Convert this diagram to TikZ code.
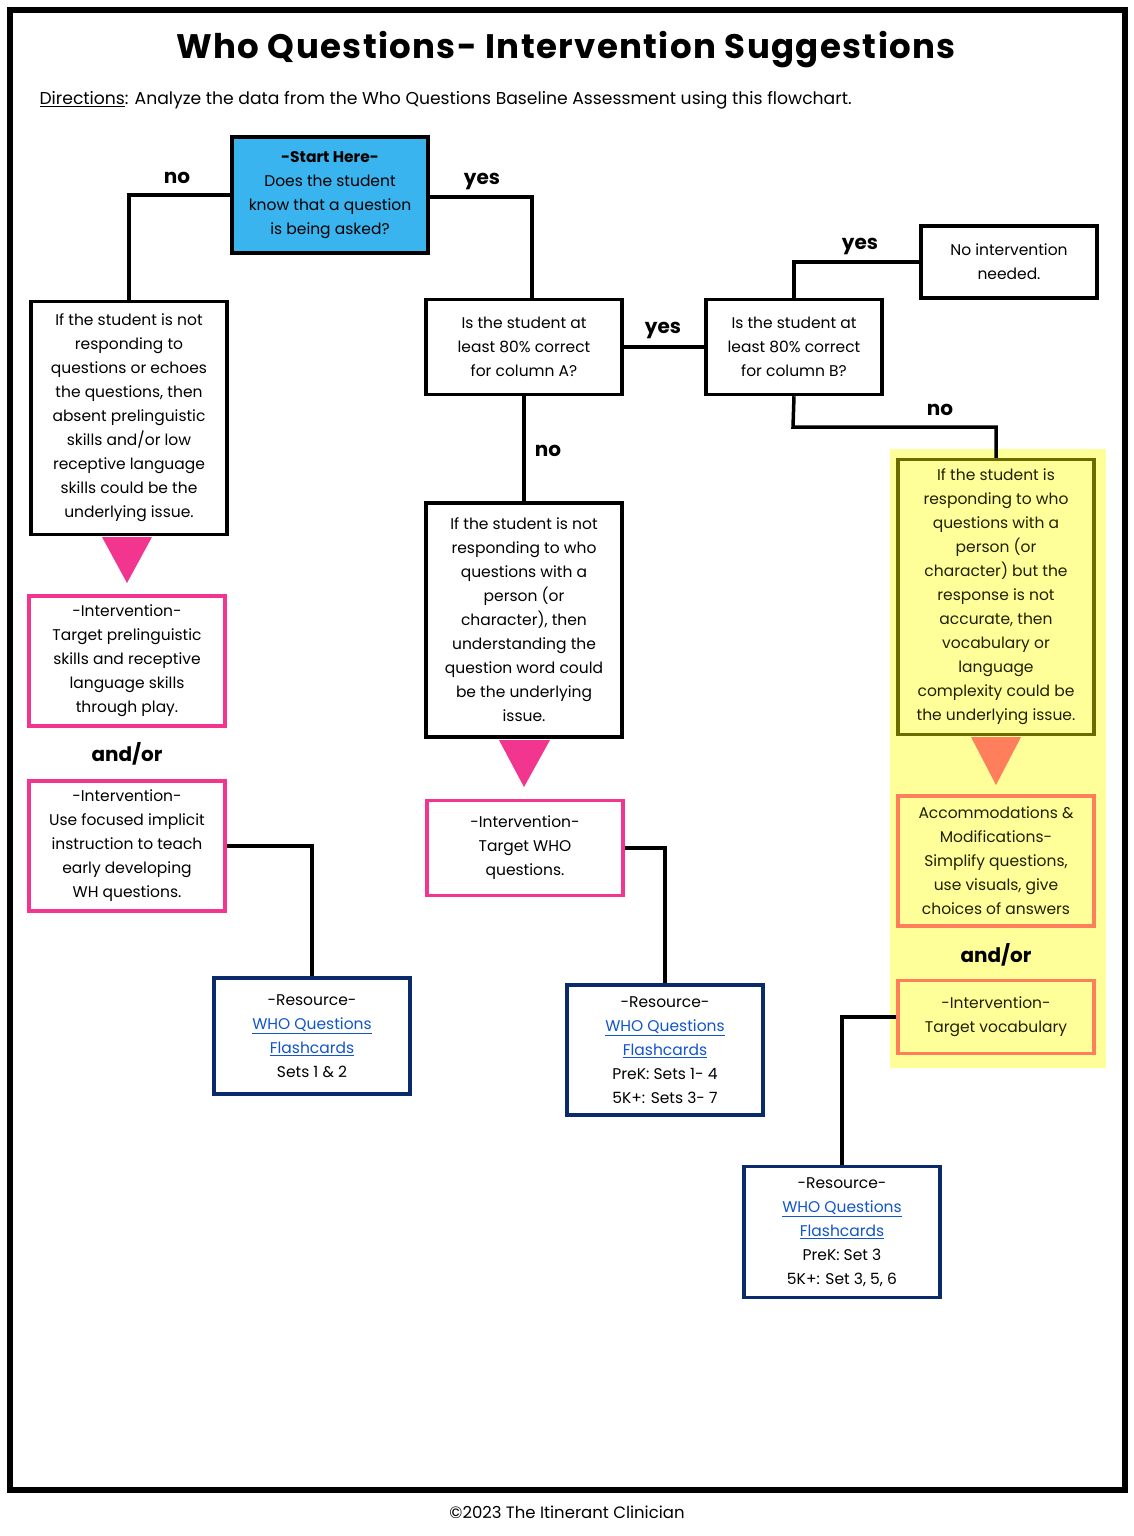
\documentclass[tikz,border=0pt]{standalone}
\usepackage{fontspec}
\setmainfont{Poppins}
\usepackage{xcolor}
\definecolor{startc}{HTML}{3AB4EE}
\definecolor{pinkc}{HTML}{F2358F}
\definecolor{navyc}{HTML}{0B2A6B}
\definecolor{olivec}{HTML}{6B6B00}
\definecolor{yelc}{HTML}{FFFF99}
\definecolor{orc}{HTML}{FF7F5C}
\definecolor{linkc}{HTML}{1155CC}
\newcommand{\lnk}[1]{\textcolor{linkc}{\underline{#1}}}
\begin{document}
\begin{tikzpicture}[x=1pt,y=-1pt,
  txt/.style={font=\fontsize{15.5}{24}\selectfont,align=center},
  box/.style={draw,line width=3.5pt,txt,inner sep=0pt},
  blk/.style={box,draw=black},
  pnk/.style={box,draw=pinkc},
  nav/.style={box,draw=navyc},
  orb/.style={box,draw=orc},
  lab/.style={font=\fontsize{20}{20}\selectfont\bfseries},
  ln/.style={line width=3.5pt}]
\useasboundingbox (0,0) rectangle (1133,1536);
\fill[white] (0,0) rectangle (1133,1536);
\draw[line width=6pt] (10,10) rectangle (1125,1490);
\node[font=\fontsize{34}{34}\selectfont\bfseries\addfontfeature{LetterSpace=4}] (title) at (566,50) {Who Questions- Intervention Suggestions};
\node[anchor=west,font=\fontsize{17.2}{20}\selectfont] (dir) at (36,100) {\underline{Directions}: Analyze the data from the Who Questions Baseline Assessment using this flowchart.};
\node[font=\fontsize{16.5}{20}\selectfont] (foot) at (567,1512) {©2023 The Itinerant Clinician};
% yellow region
\fill[yelc] (890,449) rectangle (1106,1068);
% boxes
\node[box,draw=black,fill=startc,minimum width=196pt,minimum height=116pt] (start) at (330,195) {\textbf{-Start Here-}\\Does the student\\know that a question\\is being asked?};
\node[blk,minimum width=196pt,minimum height=233pt] (left) at (129,418) {If the student is not\\responding to\\questions or echoes\\the questions, then\\absent prelinguistic\\skills and/or low\\receptive language\\skills could be the\\underlying issue.};
\node[blk,minimum width=196pt,minimum height=95pt] (ca) at (524,347) {Is the student at\\least 80\% correct\\for column A?};
\node[blk,minimum width=176pt,minimum height=95pt] (cb) at (794,347) {Is the student at\\least 80\% correct\\for column B?};
\node[blk,minimum width=176pt,minimum height=72pt] (none) at (1009,262) {No intervention\\needed.};
\node[blk,minimum width=196pt,minimum height=234pt] (mid) at (524,620) {If the student is not\\responding to who\\questions with a\\person (or\\character), then\\understanding the\\question word could\\be the underlying\\issue.};
\node[box,draw=olivec,minimum width=196pt,minimum height=275pt,text=black!70!olivec] (right) at (996,597) {If the student is\\responding to who\\questions with a\\person (or\\character) but the\\response is not\\accurate, then\\vocabulary or\\language\\complexity could be\\the underlying issue.};
\node[pnk,minimum width=196pt,minimum height=130pt] (p1) at (127,661) {-Intervention-\\Target prelinguistic\\skills and receptive\\language skills\\through play.};
\node[pnk,minimum width=196pt,minimum height=130pt] (p2) at (127,846) {-Intervention-\\Use focused implicit\\instruction to teach\\early developing\\WH questions.};
\node[pnk,minimum width=196pt,minimum height=95pt] (p3) at (525,848) {-Intervention-\\Target WHO\\questions.};
\node[orb,minimum width=196pt,minimum height=130pt,text=black!70!olivec] (o1) at (996,861) {Accommodations \&\\Modifications-\\Simplify questions,\\use visuals, give\\choices of answers};
\node[orb,minimum width=196pt,minimum height=73pt,text=black!70!olivec] (o2) at (996,1017) {-Intervention-\\Target vocabulary};
\node[nav,minimum width=196pt,minimum height=116pt] (r1) at (312,1036) {-Resource-\\\lnk{WHO Questions}\\\lnk{Flashcards}\\Sets 1 \& 2};
\node[nav,minimum width=196pt,minimum height=130pt] (r2) at (665,1050) {-Resource-\\\lnk{WHO Questions}\\\lnk{Flashcards}\\PreK: Sets 1- 4\\5K+: Sets 3- 7};
\node[nav,minimum width=196pt,minimum height=131pt] (r3) at (842,1232) {-Resource-\\\lnk{WHO Questions}\\\lnk{Flashcards}\\PreK: Set 3\\5K+: Set 3, 5, 6};
% triangles
\fill[pinkc] (102,537) -- (152,537) -- (127,583) -- cycle;
\fill[pinkc] (499,740) -- (550,740) -- (524,787) -- cycle;
\fill[orc] (971,737) -- (1021,737) -- (996,785) -- cycle;
% connectors
\draw[ln] (start.west |- 0,195) -| (left.north);
\draw[ln] (start.east |- 0,197) -| (532,0 |- ca.north);
\draw[ln] (ca.east) -- (cb.west);
\draw[ln] (ca.south) -- (mid.north);
\draw[ln] (cb.north) |- (none.west);
\draw[ln] (cb.south) -- (793,427) -| (right.north);
\draw[ln] (p2.east) -| (r1.north);
\draw[ln] (p3.east) -| (r2.north);
\draw[ln] (o2.west) -| (r3.north);
% labels
\node[lab] (l1) at (177,178) {no};
\node[lab] (l2) at (482,181) {yes};
\node[lab] (l3) at (663,330) {yes};
\node[lab] (l4) at (548,451) {no};
\node[lab] (l5) at (860,246) {yes};
\node[lab] (l6) at (940,410) {no};
\node[lab] (a1) at (127,754) {and/or};
\node[lab] (a2) at (996,955) {and/or};
\end{tikzpicture}
\end{document}
